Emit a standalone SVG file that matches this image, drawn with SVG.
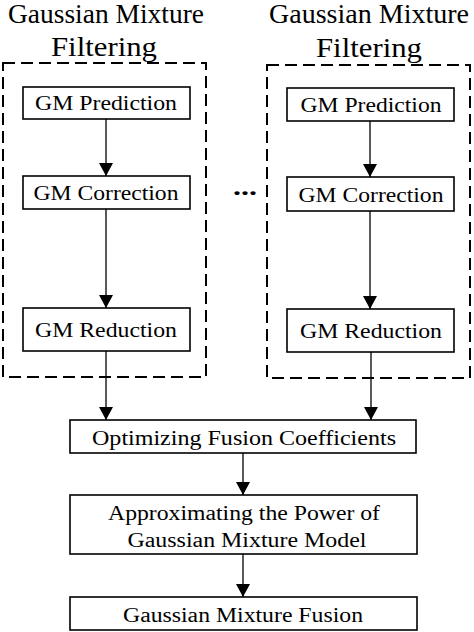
<svg xmlns="http://www.w3.org/2000/svg" width="474" height="632" viewBox="0 0 474 632">
<defs>
<style>
.box{fill:#fff;stroke:#000;stroke-width:1.6}
.dash{fill:none;stroke:#000;stroke-width:2;stroke-dasharray:12 6}
.t{font-family:"Liberation Serif","Times New Roman",serif;fill:#000;text-anchor:middle}
.lb{font-size:20px}
.ti{font-size:27px}
.ln{stroke:#000;stroke-width:1.3;fill:none;marker-end:url(#ah)}
</style>
<marker id="ah" markerWidth="13" markerHeight="14" refX="13" refY="7" orient="auto" markerUnits="userSpaceOnUse">
<path d="M0,0 L13,7 L0,14 Z" fill="#000"/>
</marker>
</defs>
<rect width="474" height="632" fill="#fff"/>
<g id="left-group">
<text class="t ti" x="106" y="23" textLength="196" lengthAdjust="spacingAndGlyphs">Gaussian Mixture</text>
<text class="t ti" x="104" y="56" textLength="106" lengthAdjust="spacingAndGlyphs">Filtering</text>
<rect class="dash" x="3" y="63" width="203" height="314"/>
</g>
<g id="right-group">
<text class="t ti" x="369" y="23" textLength="200" lengthAdjust="spacingAndGlyphs">Gaussian Mixture</text>
<text class="t ti" x="369" y="57" textLength="106" lengthAdjust="spacingAndGlyphs">Filtering</text>
<rect class="dash" x="267" y="65" width="203" height="313"/>
</g>
<g id="l-pred"><rect class="box" x="23" y="87" width="167" height="32"/><text class="t lb" x="106" y="110" textLength="142" lengthAdjust="spacingAndGlyphs">GM Prediction</text></g>
<g id="l-corr"><rect class="box" x="23" y="176" width="167" height="33"/><text class="t lb" x="106" y="200" textLength="145" lengthAdjust="spacingAndGlyphs">GM Correction</text></g>
<g id="l-red"><rect class="box" x="23" y="308" width="167" height="43"/><text class="t lb" x="106" y="337" textLength="142" lengthAdjust="spacingAndGlyphs">GM Reduction</text></g>
<g id="r-pred"><rect class="box" x="287" y="88" width="167" height="33"/><text class="t lb" x="371" y="112" textLength="141" lengthAdjust="spacingAndGlyphs">GM Prediction</text></g>
<g id="r-corr"><rect class="box" x="287" y="177" width="167" height="34"/><text class="t lb" x="371" y="202" textLength="145" lengthAdjust="spacingAndGlyphs">GM Correction</text></g>
<g id="r-red"><rect class="box" x="287" y="309" width="167" height="43"/><text class="t lb" x="371" y="338" textLength="142" lengthAdjust="spacingAndGlyphs">GM Reduction</text></g>
<g id="ellipsis"><text class="t" x="245" y="195" font-size="24" font-weight="bold" textLength="24" lengthAdjust="spacingAndGlyphs">...</text></g>
<g id="optim"><rect class="box" x="70" y="420" width="346" height="33"/><text class="t lb" x="244" y="445" textLength="304" lengthAdjust="spacingAndGlyphs">Optimizing Fusion Coefficients</text></g>
<g id="approx"><rect class="box" x="70" y="495" width="347" height="59"/><text class="t lb" x="244" y="520" textLength="272" lengthAdjust="spacingAndGlyphs">Approximating the Power of</text><text class="t lb" x="247" y="547" textLength="239" lengthAdjust="spacingAndGlyphs">Gaussian Mixture Model</text></g>
<g id="fusion"><rect class="box" x="70" y="597" width="347" height="33"/><text class="t lb" x="243" y="622" textLength="240" lengthAdjust="spacingAndGlyphs">Gaussian Mixture Fusion</text></g>
<g id="connectors">
<line class="ln" x1="106" y1="119" x2="106" y2="176"/>
<line class="ln" x1="106" y1="209" x2="106" y2="308"/>
<line class="ln" x1="370" y1="121" x2="370" y2="177"/>
<line class="ln" x1="370" y1="211" x2="370" y2="309"/>
<line class="ln" x1="106" y1="351" x2="106" y2="420"/>
<line class="ln" x1="371" y1="352" x2="371" y2="420"/>
<line class="ln" x1="243" y1="453" x2="243" y2="495"/>
<line class="ln" x1="243" y1="554" x2="243" y2="597"/>
</g>
</svg>
